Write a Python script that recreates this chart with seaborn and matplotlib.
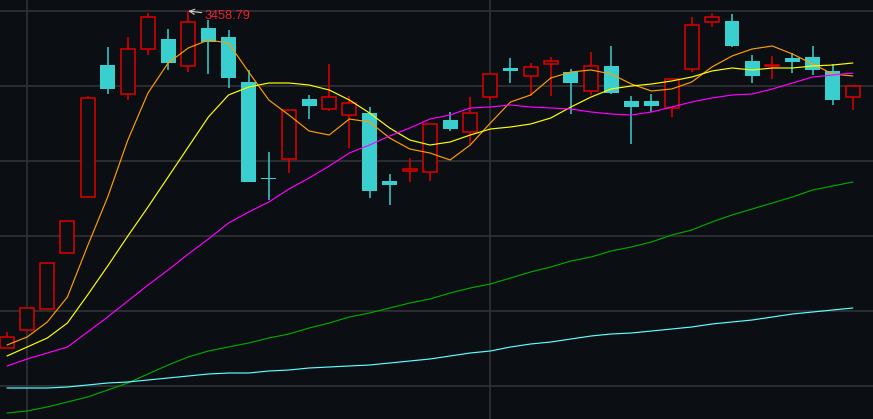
import matplotlib
matplotlib.use("Agg")
import matplotlib.pyplot as plt
import seaborn as sns
import pandas as pd
import numpy as np

# ---- data (daily index candles) ----
opens = [2953.3, 2980.3, 3011.8, 3095.8, 3179.8, 3377.8, 3334.3, 3401.8, 3416.8, 3376.3,
         3433.3, 3419.8, 3352.3, 3207.6, 3236.8, 3326.8, 3311.8, 3302.8, 3305.8, 3203.8,
         3218.8, 3217.3, 3295.3, 3277.3, 3329.8, 3373.3, 3361.3, 3379.3, 3367.3, 3338.8,
         3376.3, 3323.8, 3323.8, 3313.3, 3371.8, 3442.3, 3443.8, 3383.8, 3376.3, 3388.3,
         3389.8, 3368.8, 3329.8]
closes = [2969.8, 3013.3, 3080.8, 3143.8, 3328.3, 3341.8, 3401.8, 3449.8, 3380.8, 3442.3,
          3412.3, 3358.3, 3202.3, 3206.1, 3310.3, 3316.3, 3329.8, 3320.8, 3188.8, 3197.8,
          3221.8, 3289.3, 3281.8, 3305.8, 3364.3, 3368.8, 3374.8, 3383.8, 3350.8, 3376.3,
          3335.8, 3314.8, 3316.3, 3356.8, 3437.8, 3449.8, 3406.3, 3361.3, 3377.8, 3382.3,
          3370.3, 3325.3, 3346.3]
highs = [2977.3, 3013.3, 3082.3, 3143.8, 3331.3, 3404.8, 3419.8, 3455.8, 3431.8, 3458.79,
         3445.3, 3430.3, 3370.3, 3247.3, 3310.3, 3332.8, 3379.3, 3331.3, 3314.8, 3214.3,
         3238.3, 3289.3, 3307.3, 3329.8, 3364.3, 3388.3, 3380.8, 3389.8, 3371.8, 3397.3,
         3406.3, 3331.3, 3334.3, 3356.8, 3449.8, 3455.8, 3454.3, 3392.8, 3391.3, 3395.8,
         3406.3, 3379.3, 3347.8]
lows = [2953.3, 2980.3, 3011.8, 3095.8, 3179.8, 3334.3, 3325.3, 3392.8, 3370.3, 3367.3,
        3364.3, 3343.3, 3202.3, 3175.3, 3215.8, 3296.8, 3308.8, 3253.3, 3178.3, 3167.8,
        3202.3, 3203.8, 3278.8, 3259.3, 3325.3, 3350.8, 3331.3, 3331.3, 3304.3, 3332.8,
        3334.3, 3259.3, 3307.3, 3299.8, 3367.3, 3434.8, 3404.8, 3350.8, 3356.8, 3365.8,
        3362.8, 3317.8, 3310.3]

ma5 = [2957.8, 2969.8, 2992.3, 3029.8, 3106.3, 3179.8, 3265.3, 3335.8, 3380.8, 3403.3,
       3415.3, 3410.8, 3367.3, 3325.3, 3302.8, 3278.8, 3272.8, 3296.8, 3292.3, 3268.3,
       3251.8, 3245.8, 3235.3, 3257.8, 3290.8, 3322.3, 3332.8, 3358.3, 3367.3, 3370.3,
       3364.3, 3349.3, 3338.8, 3341.8, 3352.3, 3374.8, 3391.3, 3401.8, 3406.3, 3394.3,
       3379.3, 3364.3, 3361.3]
ma10 = [2941.3, 2954.8, 2968.3, 2990.8, 3032.8, 3076.3, 3121.3, 3164.8, 3209.8, 3254.8,
        3299.8, 3332.8, 3344.8, 3350.8, 3350.8, 3347.8, 3340.3, 3325.3, 3305.8, 3283.3,
        3265.3, 3257.8, 3262.3, 3272.8, 3281.8, 3284.8, 3289.3, 3298.3, 3314.8, 3329.8,
        3341.8, 3346.3, 3349.3, 3353.8, 3359.8, 3368.8, 3373.3, 3370.3, 3373.3, 3373.3,
        3376.3, 3377.8, 3380.8]
ma20 = [2926.3, 2936.8, 2945.8, 2954.8, 2977.3, 2999.8, 3023.8, 3047.8, 3070.3, 3094.3,
        3116.8, 3140.8, 3157.3, 3172.3, 3191.8, 3208.3, 3226.3, 3245.8, 3257.8, 3271.3,
        3283.3, 3296.8, 3302.8, 3313.3, 3314.8, 3317.8, 3314.8, 3313.3, 3311.8, 3307.3,
        3304.3, 3302.8, 3307.3, 3314.8, 3322.3, 3328.3, 3332.8, 3334.3, 3341.8, 3350.8,
        3359.8, 3362.8, 3365.8]
ma60 = [2855.8, 2858.8, 2864.8, 2872.3, 2879.8, 2890.3, 2900.8, 2914.3, 2927.8, 2939.8,
        2948.8, 2954.8, 2960.8, 2968.3, 2974.3, 2983.3, 2990.8, 2999.8, 3005.8, 3013.3,
        3020.8, 3026.8, 3035.8, 3043.3, 3049.3, 3058.3, 3067.3, 3074.8, 3083.8, 3089.8,
        3098.8, 3104.8, 3112.3, 3122.8, 3130.3, 3142.3, 3152.8, 3161.8, 3170.8, 3179.8,
        3190.3, 3196.3, 3202.3]
ma120 = [2893.3, 2893.3, 2893.3, 2894.8, 2897.8, 2900.8, 2902.3, 2905.3, 2908.3, 2911.3,
         2914.3, 2915.8, 2915.8, 2918.8, 2920.3, 2923.3, 2924.8, 2926.3, 2927.8, 2930.8,
         2933.8, 2936.8, 2941.3, 2945.8, 2948.8, 2954.8, 2959.3, 2962.3, 2966.8, 2971.3,
         2974.3, 2975.8, 2978.8, 2981.8, 2984.8, 2989.3, 2992.3, 2995.3, 2999.8, 3004.3,
         3007.3, 3010.3, 3013.3]

peak_label = "3458.79"

# ---- styling ----
BG = "#0b0e13"
GRID = "#2e3034"
UP = "#e00000"
DOWN = "#3acfcf"
ma_colors = {"ma5": "#ff9d00", "ma10": "#ffff00", "ma20": "#ff00ff",
             "ma60": "#00a800", "ma120": "#5cffff"}

sns.set_theme(style="dark")
plt.rcParams["font.family"] = ["Liberation Sans", "DejaVu Sans"]

n = len(opens)
df = pd.DataFrame({"idx": np.arange(n), "open": opens, "close": closes,
                   "high": highs, "low": lows, "ma5": ma5, "ma10": ma10,
                   "ma20": ma20, "ma60": ma60, "ma120": ma120})

fig = plt.figure(figsize=(8.73, 4.19), dpi=100, facecolor=BG)
ax = fig.add_axes([0, 0, 1, 1])
ax.set_facecolor(BG)

# grid
for lvl in [3458.8, 3346.3, 3233.8, 3121.3, 3008.8, 2896.3]:
    ax.axhline(lvl, color=GRID, lw=1.3, zorder=0)
for vx in [1, 24]:
    ax.axvline(vx, color=GRID, lw=1.3, zorder=0)

up = df["close"] >= df["open"]
width = 0.70

# wicks
ax.vlines(df.loc[up, "idx"], df.loc[up, "low"], df.loc[up, "high"], color=UP, lw=1.1, zorder=2)
ax.vlines(df.loc[~up, "idx"], df.loc[~up, "low"], df.loc[~up, "high"], color=DOWN, lw=1.1, zorder=2)

# bodies
bot = np.minimum(df["open"], df["close"])
hgt = np.maximum(np.abs(df["close"] - df["open"]), 2.0)
ax.bar(df.loc[up, "idx"], hgt[up], width=width, bottom=bot[up], facecolor=BG,
       edgecolor=UP, linewidth=1.1, zorder=3)
ax.bar(df.loc[~up, "idx"], hgt[~up], width=width + 0.04, bottom=bot[~up], facecolor=DOWN,
       edgecolor="none", linewidth=0, zorder=3)

# moving averages
for key, col in ma_colors.items():
    sns.lineplot(data=df, x="idx", y=key, color=col, lw=0.85, ax=ax, zorder=4)

# peak annotation
imax = int(np.argmax(highs))
ax.annotate(peak_label, xy=(imax, highs[imax]), xytext=(12, -3.5),
            textcoords="offset points", ha="left", va="center",
            color="#e8232a", fontsize=9.2,
            arrowprops=dict(arrowstyle="->", color="#d0d0d0", lw=0.8,
                            shrinkA=0, shrinkB=0),
            zorder=6)

ax.set_xlim(-0.348, 43.0)
ax.set_ylim(2846.8, 3475.3)
ax.set_xlabel("")
ax.set_ylabel("")
ax.set_xticks([])
ax.set_yticks([])
for s in ax.spines.values():
    s.set_visible(False)
ax.grid(False)

fig.savefig("out.png", dpi=100, facecolor=BG)
